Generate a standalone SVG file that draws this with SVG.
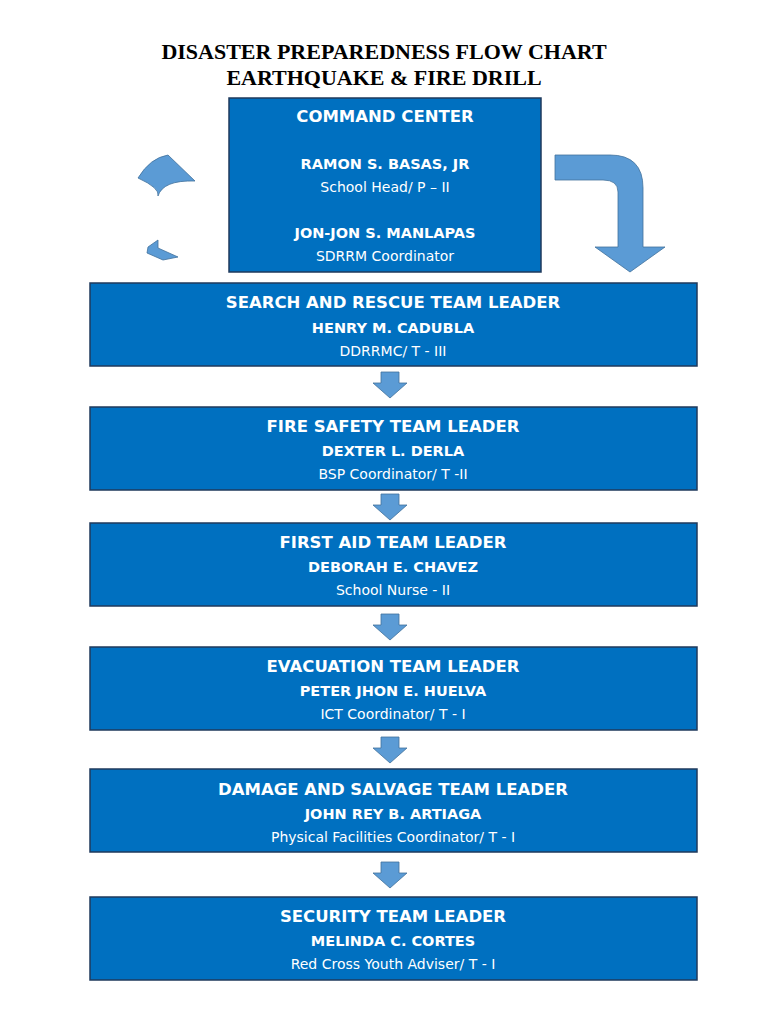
<svg xmlns="http://www.w3.org/2000/svg" width="768" height="1024" viewBox="0 0 768 1024">
<style>
.box{fill:#0070C0;stroke:#1f3a5c;stroke-width:1.5}
.ar{fill:#5B9BD5;stroke:#41719C;stroke-width:0.8}
text{font-family:"DejaVu Sans",Verdana,sans-serif;fill:#fff;text-anchor:middle}
.h{font-size:16.5px;font-weight:bold}
.n{font-size:14.5px;font-weight:bold}
.r{font-size:14px}
.t{font-family:"Liberation Serif","Times New Roman",serif;font-weight:bold;font-size:22px;fill:#000}
</style>
<rect width="768" height="1024" fill="#fff"/>
<text class="t" x="384" y="59">DISASTER PREPAREDNESS FLOW CHART</text>
<text class="t" x="384" y="85">EARTHQUAKE &amp; FIRE DRILL</text>
<g id="connectors">
<path class="ar" d="M138,178 Q150,158 168,155 L195,181 Q163,180 158,196 Q160,188 138,178 Z"/>
<path class="ar" d="M158,240 L158,248 L178,257 L163,260 L147,253 L148,247 Z"/>
<path class="ar" d="M555,155 L610,155 Q643,155 643,188 L643,247 L665,247 L630,272 L595,247 L618,247 L618,192 Q618,180 603,180 L555,180 Z"/>
<path class="ar" d="M381,372 L399,372 L399,383 L407,383 L390,398 L373,383 L381,383 Z"/>
<path class="ar" d="M381,494 L399,494 L399,505 L407,505 L390,520 L373,505 L381,505 Z"/>
<path class="ar" d="M381,614 L399,614 L399,625 L407,625 L390,640 L373,625 L381,625 Z"/>
<path class="ar" d="M381,737 L399,737 L399,748 L407,748 L390,763 L373,748 L381,748 Z"/>
<path class="ar" d="M381,862 L399,862 L399,873 L407,873 L390,888 L373,873 L381,873 Z"/>
</g>
<g id="command"><rect class="box" x="229" y="98" width="312" height="174"/>
<text class="h" x="385" y="122">COMMAND CENTER</text>
<text class="n" x="385" y="169">RAMON S. BASAS, JR</text>
<text class="r" x="385" y="192">School Head/ P – II</text>
<text class="n" x="385" y="238">JON-JON S. MANLAPAS</text>
<text class="r" x="385" y="261">SDRRM Coordinator</text></g>
<g id="search"><rect class="box" x="90" y="283" width="607" height="83"/>
<text class="h" x="393" y="308">SEARCH AND RESCUE TEAM LEADER</text>
<text class="n" x="393" y="333">HENRY M. CADUBLA</text>
<text class="r" x="393" y="356">DDRRMC/ T - III</text></g>
<g id="fire"><rect class="box" x="90" y="407" width="607" height="83"/>
<text class="h" x="393" y="432">FIRE SAFETY TEAM LEADER</text>
<text class="n" x="393" y="456">DEXTER L. DERLA</text>
<text class="r" x="393" y="479">BSP Coordinator/ T -II</text></g>
<g id="firstaid"><rect class="box" x="90" y="523" width="607" height="83"/>
<text class="h" x="393" y="548">FIRST AID TEAM LEADER</text>
<text class="n" x="393" y="572">DEBORAH E. CHAVEZ</text>
<text class="r" x="393" y="595">School Nurse - II</text></g>
<g id="evac"><rect class="box" x="90" y="647" width="607" height="83"/>
<text class="h" x="393" y="672">EVACUATION TEAM LEADER</text>
<text class="n" x="393" y="696">PETER JHON E. HUELVA</text>
<text class="r" x="393" y="719">ICT Coordinator/ T - I</text></g>
<g id="damage"><rect class="box" x="90" y="769" width="607" height="83"/>
<text class="h" x="393" y="795">DAMAGE AND SALVAGE TEAM LEADER</text>
<text class="n" x="393" y="819">JOHN REY B. ARTIAGA</text>
<text class="r" x="393" y="842">Physical Facilities Coordinator/ T - I</text></g>
<g id="security"><rect class="box" x="90" y="897" width="607" height="83"/>
<text class="h" x="393" y="922">SECURITY TEAM LEADER</text>
<text class="n" x="393" y="946">MELINDA C. CORTES</text>
<text class="r" x="393" y="969">Red Cross Youth Adviser/ T - I</text></g>
</svg>
